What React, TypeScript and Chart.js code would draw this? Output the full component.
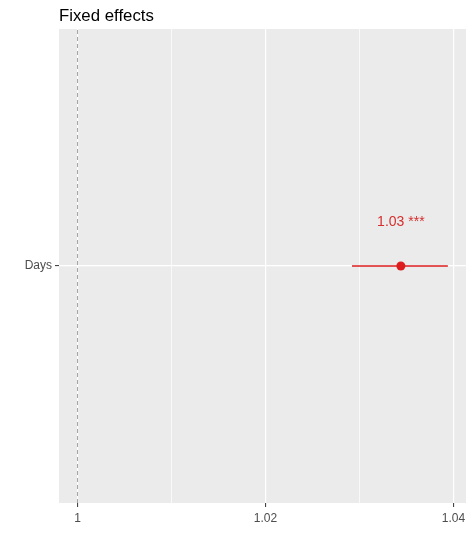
import { useEffect, useRef } from "react";
import { Chart, registerables } from "chart.js";

Chart.register(...registerables);

// data
const terms = ["Days"];
const estimates = [1.0344];
const ciLow = [1.0292];
const ciHigh = [1.0394];
const stars = ["***"];

const xTicks = [1, 1.01, 1.02, 1.03, 1.04];
const xTickLabels = ["1", "", "1.02", "", "1.04"];
const xMin = 0.99803;
const xMax = 1.04133;

const RED = "#DD1C1F";

const panelPlugin = {
  id: "panel",
  beforeDraw(chart: any) {
    const { ctx, chartArea } = chart;
    ctx.save();
    ctx.fillStyle = "#EBEBEB";
    ctx.fillRect(chartArea.left, chartArea.top, chartArea.right - chartArea.left, chartArea.bottom - chartArea.top);
    ctx.restore();
  },
  afterDraw(chart: any) {
    const { ctx } = chart;
    const xs = chart.scales.x;
    const ys = chart.scales.y;
    ctx.save();
    ctx.fillStyle = "#000";
    ctx.font = '16.8px "Liberation Sans", Arial, sans-serif';
    ctx.textAlign = "left";
    ctx.textBaseline = "alphabetic";
    ctx.fillText("Fixed effects", chart.chartArea.left, 21);

    ctx.fillStyle = "#D62E2E";
    ctx.font = '14px "Liberation Sans", Arial, sans-serif';
    ctx.textAlign = "center";
    terms.forEach((_, i) => {
      const px = xs.getPixelForValue(estimates[i]);
      const py = ys.getPixelForValue(i + 1);
      ctx.fillText(`${estimates[i].toFixed(2)} ${stars[i]}`, px, py - 40);
    });
    ctx.restore();
  },
};

export default function App() {
  const canvasRef = useRef<HTMLCanvasElement | null>(null);
  const chartRef = useRef<Chart | null>(null);

  useEffect(() => {
    if (!canvasRef.current) return;
    if (chartRef.current) chartRef.current.destroy();

    const datasets: any[] = [
      {
        // reference line at 1
        type: "line",
        data: [
          { x: 1, y: 0 },
          { x: 1, y: terms.length + 1 },
        ],
        borderColor: "#9A9A9A",
        borderWidth: 0.9,
        borderDash: [4, 3],
        pointRadius: 0,
      },
    ];
    terms.forEach((_, i) => {
      datasets.push({
        type: "line",
        data: [
          { x: ciLow[i], y: i + 1 },
          { x: ciHigh[i], y: i + 1 },
        ],
        borderColor: RED,
        borderWidth: 1.3,
        pointRadius: 0,
      });
    });
    datasets.push({
      type: "scatter",
      data: terms.map((_, i) => ({ x: estimates[i], y: i + 1 })),
      backgroundColor: RED,
      borderWidth: 0,
      pointRadius: 4.5,
    });

    chartRef.current = new Chart(canvasRef.current, {
      type: "scatter",
      data: { datasets },
      options: {
        responsive: false,
        animation: false,
        devicePixelRatio: 1,
        layout: { padding: { top: 29, right: 8, left: 0, bottom: 0 } },
        plugins: {
          legend: { display: false },
          tooltip: { enabled: false },
          title: { display: false },
        },
        scales: {
          x: {
            type: "linear",
            min: xMin,
            max: xMax,
            afterBuildTicks: (scale: any) => {
              scale.ticks = xTicks.map((v) => ({ value: v }));
            },
            afterFit: (scale: any) => {
              scale.height = 43;
            },
            border: { display: false },
            grid: {
              color: "#FFFFFF",
              lineWidth: (ctx: any) => (xTickLabels[ctx.index] ? 1.2 : 0.7),
              tickColor: (ctx: any) => (xTickLabels[ctx.index] ? "#333333" : "rgba(0,0,0,0)"),
              tickLength: 4,
              tickWidth: 1,
            },
            ticks: {
              autoSkip: false,
              maxRotation: 0,
              color: "#4D4D4D",
              padding: 4,
              font: { family: '"Liberation Sans", Arial, sans-serif', size: 12 },
              callback: (_v: any, i: number) => xTickLabels[i],
            },
          },
          y: {
            type: "linear",
            min: 0,
            max: terms.length + 1,
            afterBuildTicks: (scale: any) => {
              scale.ticks = terms.map((_, i) => ({ value: i + 1 }));
            },
            afterFit: (scale: any) => {
              scale.width = 59;
            },
            border: { display: false },
            grid: {
              color: "#FFFFFF",
              lineWidth: 1.2,
              tickColor: "#333333",
              tickLength: 4,
              tickWidth: 1,
            },
            ticks: {
              autoSkip: false,
              color: "#4D4D4D",
              padding: 3,
              font: { family: '"Liberation Sans", Arial, sans-serif', size: 12 },
              callback: (_v: any, i: number) => terms[i],
            },
          },
        },
      },
      plugins: [panelPlugin],
    });

    return () => {
      if (chartRef.current) chartRef.current.destroy();
    };
  }, []);

  return (
    <div style={{ position: "absolute", left: 0, top: 0, width: 474, height: 546, background: "#FFFFFF" }}>
      <canvas ref={canvasRef} width={474} height={546}></canvas>
    </div>
  );
}
